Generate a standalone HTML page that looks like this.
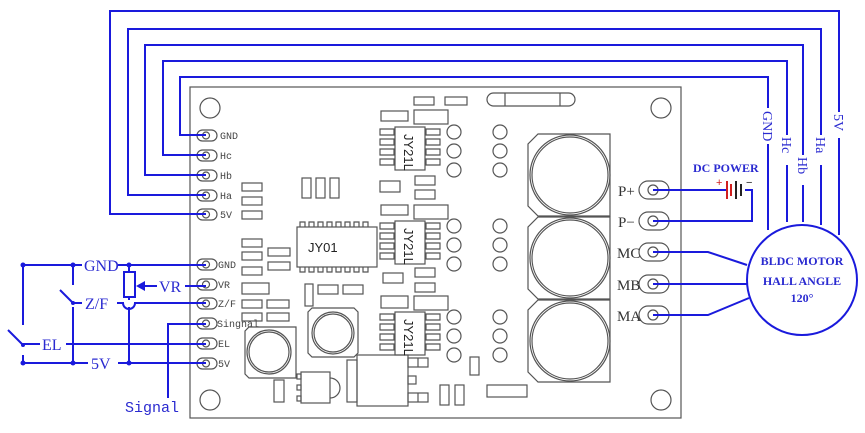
<!DOCTYPE html>
<html><head><style>
html,body{margin:0;padding:0;background:#fff;}
svg{display:block;}
.b{stroke:#1a1adc;stroke-width:2;fill:none;}
.g{stroke:#555;stroke-width:1.2;fill:none;}
.bt{fill:#2a2ad0;font-family:"Liberation Serif",serif;}
.gt{fill:#444;font-family:"Liberation Mono",monospace;font-size:10px;}
</style></head><body>
<svg width="865" height="433" viewBox="0 0 865 433" xmlns="http://www.w3.org/2000/svg">
<rect x="0" y="0" width="865" height="433" fill="#fff"/>
<rect x="190" y="87" width="491" height="331" class="g"/>
<circle cx="210" cy="108" r="10" class="g"/><circle cx="661" cy="108" r="10" class="g"/>
<circle cx="210" cy="400" r="10" class="g"/><circle cx="661" cy="400" r="10" class="g"/>
<g class="g">
<rect x="197" y="130" width="20" height="11" rx="5.5"/><circle cx="206" cy="135.5" r="3.5"/>
<rect x="197" y="150" width="20" height="11" rx="5.5"/><circle cx="206" cy="155.5" r="3.5"/>
<rect x="197" y="170" width="20" height="11" rx="5.5"/><circle cx="206" cy="175.5" r="3.5"/>
<rect x="197" y="190" width="20" height="11" rx="5.5"/><circle cx="206" cy="195.5" r="3.5"/>
<rect x="197" y="209" width="20" height="11" rx="5.5"/><circle cx="206" cy="214.5" r="3.5"/>
<rect x="197" y="259" width="20" height="11" rx="5.5"/><circle cx="206" cy="264.5" r="3.5"/>
<rect x="197" y="279" width="20" height="11" rx="5.5"/><circle cx="206" cy="284.5" r="3.5"/>
<rect x="197" y="298" width="20" height="11" rx="5.5"/><circle cx="206" cy="303.5" r="3.5"/>
<rect x="197" y="318" width="20" height="11" rx="5.5"/><circle cx="206" cy="323.5" r="3.5"/>
<rect x="197" y="338" width="20" height="11" rx="5.5"/><circle cx="206" cy="343.5" r="3.5"/>
<rect x="197" y="358" width="20" height="11" rx="5.5"/><circle cx="206" cy="363.5" r="3.5"/>
</g>
<g class="gt">
<text x="220" y="139">GND</text><text x="220" y="159">Hc</text><text x="220" y="179">Hb</text><text x="220" y="199">Ha</text><text x="220" y="218">5V</text>
<text x="218" y="268">GND</text><text x="218" y="288">VR</text><text x="218" y="307">Z/F</text><text x="217" y="327">Singnal</text><text x="218" y="347">EL</text><text x="218" y="367">5V</text>
</g>
<g class="g">
<rect x="242" y="183" width="20" height="8"/><rect x="242" y="197" width="20" height="8"/><rect x="242" y="211" width="20" height="8"/>
<rect x="242" y="239" width="20" height="8"/><rect x="242" y="252" width="20" height="8"/><rect x="242" y="267" width="20" height="8"/>
<rect x="268" y="248" width="22" height="8"/><rect x="268" y="262" width="22" height="8"/>
<rect x="242" y="283" width="27" height="11"/>
<rect x="242" y="300" width="20" height="8"/><rect x="267" y="300" width="22" height="8"/>
<rect x="242" y="313" width="20" height="8"/><rect x="267" y="313" width="22" height="8"/>
<path d="M249 327H296V378H249L245 374V331Z"/><circle cx="269" cy="352" r="22"/><circle cx="269" cy="352" r="20"/>
<rect x="274" y="380" width="10" height="22"/>
<rect x="302" y="178" width="9" height="20"/><rect x="316" y="178" width="9" height="20"/><rect x="330" y="178" width="9" height="20"/>
<rect x="297" y="227" width="80" height="40"/>
<path d="M300 227v-5h5v5M309 227v-5h5v5M318 227v-5h5v5M327 227v-5h5v5M336 227v-5h5v5M345 227v-5h5v5M354 227v-5h5v5M363 227v-5h5v5M300 267v5h5v-5M309 267v5h5v-5M318 267v5h5v-5M327 267v5h5v-5M336 267v5h5v-5M345 267v5h5v-5M354 267v5h5v-5M363 267v5h5v-5"/>
<rect x="305" y="284" width="8" height="22"/><rect x="318" y="285" width="20" height="9"/><rect x="343" y="285" width="20" height="9"/>
<path d="M312 308H354L358 312V353L354 357H312L308 353V312Z"/><circle cx="333" cy="333" r="21"/><circle cx="333" cy="333" r="19"/>
<rect x="414" y="97" width="20" height="8"/><rect x="445" y="97" width="22" height="8"/>
<rect x="487" y="93" width="88" height="13" rx="6.5"/><path d="M505 93v13M560 93v13"/>
<rect x="381" y="111" width="27" height="10"/><rect x="414" y="110" width="34" height="14"/>
<rect x="380" y="181" width="20" height="11"/><rect x="415" y="176" width="20" height="9"/><rect x="415" y="190" width="20" height="9"/>
<rect x="381" y="205" width="27" height="10"/><rect x="414" y="205" width="34" height="14"/>
<rect x="383" y="273" width="20" height="10"/><rect x="415" y="268" width="20" height="9"/><rect x="415" y="283" width="20" height="9"/>
<rect x="381" y="296" width="27" height="12"/><rect x="414" y="296" width="34" height="14"/>
<g id="ic"><rect x="395" y="127" width="30" height="43"/>
<path d="M380 129h14v6h-14zM380 139h14v6h-14zM380 149h14v6h-14zM380 159h14v6h-14zM426 129h14v6h-14zM426 139h14v6h-14zM426 149h14v6h-14zM426 159h14v6h-14z"/>
<circle cx="454" cy="132" r="7"/><circle cx="454" cy="151" r="7"/><circle cx="454" cy="170" r="7"/>
<circle cx="500" cy="132" r="7"/><circle cx="500" cy="151" r="7"/><circle cx="500" cy="170" r="7"/></g>
<use href="#ic" y="94"/><use href="#ic" y="185"/>
<g id="cap"><path d="M538 134H610V216H538L528 206V144Z"/><circle cx="570" cy="175" r="40"/><circle cx="570" cy="175" r="38"/></g>
<use href="#cap" y="83"/><use href="#cap" y="166"/>
<rect x="357" y="355" width="51" height="51"/><rect x="347" y="360" width="10" height="42"/>
<rect x="408" y="358" width="20" height="9"/><rect x="408" y="376" width="8" height="8"/><rect x="408" y="393" width="20" height="9"/>
<path d="M418 358v9M418 393v9"/>
<rect x="301" y="372" width="29" height="31"/><path d="M330 378a10 10 0 0 1 0 20"/>
<rect x="297" y="374" width="4" height="5"/><rect x="297" y="385" width="4" height="5"/><rect x="297" y="396" width="4" height="5"/>
<rect x="470" y="357" width="9" height="18"/><rect x="440" y="385" width="9" height="20"/><rect x="455" y="385" width="9" height="20"/><rect x="487" y="385" width="40" height="12"/>
<rect x="639" y="181" width="30" height="18" rx="9"/><circle cx="653" cy="190" r="5"/>
<rect x="639" y="212" width="30" height="18" rx="9"/><circle cx="653" cy="221" r="5"/>
<rect x="639" y="243" width="30" height="18" rx="9"/><circle cx="653" cy="252" r="5"/>
<rect x="639" y="275" width="30" height="18" rx="9"/><circle cx="653" cy="284" r="5"/>
<rect x="639" y="306" width="30" height="18" rx="9"/><circle cx="653" cy="315" r="5"/>
</g>
<g font-family="Liberation Serif,serif" font-size="15" fill="#333">
<text x="618" y="196">P+</text><text x="618" y="227">P−</text><text x="617" y="258">MC</text><text x="617" y="290">MB</text><text x="617" y="321">MA</text>
</g>
<g font-family="Liberation Sans,sans-serif" font-size="13" fill="#222">
<text x="308" y="252">JY01</text>
<text transform="translate(404,134) rotate(90)">JY21L</text>
<text transform="translate(404,228) rotate(90)">JY21L</text>
<text transform="translate(404,319) rotate(90)">JY21L</text>
</g>
<path class="b" d="M206 135H180V77H768V230"/>
<path class="b" d="M206 155H163V61H787V222"/>
<path class="b" d="M206 175H145V45H803V222"/>
<path class="b" d="M206 195H128V29H821V225"/>
<path class="b" d="M206 214H110V11H839V235"/>
<rect x="761" y="108" width="14" height="36" fill="#fff"/><rect x="780" y="135" width="14" height="30" fill="#fff"/>
<rect x="796" y="155" width="14" height="30" fill="#fff"/><rect x="814" y="135" width="14" height="30" fill="#fff"/><rect x="832" y="112" width="14" height="26" fill="#fff"/>
<g class="bt" font-size="14">
<text transform="translate(763,111) rotate(90)">GND</text>
<text transform="translate(782,137) rotate(90)">Hc</text>
<text transform="translate(798,157) rotate(90)">Hb</text>
<text transform="translate(816,137) rotate(90)">Ha</text>
<text transform="translate(834,114) rotate(90)">5V</text>
</g>
<text class="bt" x="693" y="172" font-size="12" font-weight="bold">DC POWER</text>
<path class="b" d="M653 190H727M745 190H752V221H653"/>
<path stroke="#d02020" stroke-width="2" d="M727 181V199M731 184V196"/>
<path stroke="#222" stroke-width="2" d="M736 181V199M741 184V196"/>
<text x="716" y="186" fill="#d02020" font-size="11" font-family="Liberation Sans">+</text>
<text x="746" y="186" fill="#222" font-size="11" font-family="Liberation Sans">−</text>
<circle cx="802" cy="280" r="55" class="b"/>
<path class="b" d="M653 252H708L747 265M653 284H747M653 315H708L749 298"/>
<g class="bt" font-size="12" font-weight="bold" text-anchor="middle">
<text x="802" y="265">BLDC MOTOR</text><text x="802" y="285">HALL ANGLE</text><text x="802" y="302">120°</text>
</g>
<path class="b" d="M23 265H82M118 265H206M23 265V325M23 355V363H88M118 363H206"/>
<path class="b" d="M73 265V285M73 307V363"/>
<path class="b" d="M8 330L23 345M60 290L73 303"/>
<path class="b" d="M23 344H40M66 344H206"/>
<path class="b" d="M129 265V272M129 297V300M129 307V363"/>
<rect x="124" y="272" width="11" height="25" class="b"/>
<path class="b" d="M73 303H82M117 303H123a6 6 0 0 0 12 0H206"/>
<path class="b" d="M141 286H157M185 286H206"/>
<path d="M136 286L145 281V291Z" fill="#1a1adc"/>
<path class="b" d="M206 324H168V398"/>
<g fill="#1a1adc"><circle cx="23" cy="265" r="2.5"/><circle cx="73" cy="265" r="2.5"/><circle cx="129" cy="265" r="2.5"/>
<circle cx="23" cy="363" r="2.5"/><circle cx="73" cy="363" r="2.5"/><circle cx="129" cy="363" r="2.5"/><circle cx="73" cy="303" r="2"/><circle cx="23" cy="345" r="2"/></g>
<g class="bt" font-size="16">
<text x="84" y="271">GND</text><text x="85" y="309">Z/F</text><text x="42" y="350">EL</text><text x="91" y="369">5V</text><text x="159" y="292">VR</text>
<text x="125" y="412" font-family="Liberation Mono,monospace" font-size="15">Signal</text>
</g>
</svg>
</body></html>
